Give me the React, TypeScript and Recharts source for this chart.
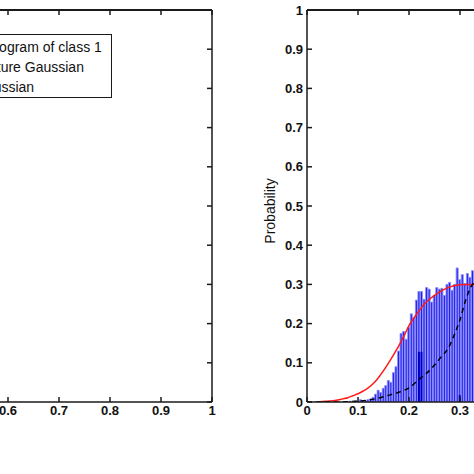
import { ComposedChart, Bar, Line, XAxis, YAxis, ReferenceLine } from 'recharts'

const FONT = '"Liberation Sans", Arial, Helvetica, sans-serif'
const INK = '#1a1a1a'
const VIEW = 474
const PLOT_TOP = 10

// axes are 0..1 with MATLAB style 0.1 steps on both panels
const axisTicks = [0, 0.1, 0.2, 0.3, 0.4, 0.5, 0.6, 0.7, 0.8, 0.9, 1]

// right panel: histogram bins (bin centres) and probabilities
const binCenters = [
  0.085, 0.09, 0.095, 0.1, 0.105, 0.11, 0.115, 0.12, 0.125, 0.13, 0.135, 0.14, 0.145, 0.15,
  0.155, 0.16, 0.165, 0.17, 0.175, 0.18, 0.185, 0.19, 0.195, 0.2, 0.205, 0.21, 0.215, 0.22,
  0.225, 0.23, 0.235, 0.24, 0.245, 0.25, 0.255, 0.26, 0.265, 0.27, 0.275, 0.28, 0.285, 0.29,
  0.295, 0.3, 0.305, 0.31, 0.315, 0.32, 0.325, 0.33, 0.335,
]
const histValues = [
  0.002, 0, 0.003, 0.002, 0.006, 0.004, 0.003, 0.006, 0.008, 0.012, 0.02, 0.03, 0.024, 0.035,
  0.042, 0.055, 0.05, 0.075, 0.09, 0.13, 0.175, 0.18, 0.16, 0.19, 0.225, 0.215, 0.26, 0.282,
  0.282, 0.262, 0.292, 0.288, 0.255, 0.272, 0.292, 0.288, 0.29, 0.272, 0.3, 0.305, 0.285, 0.3,
  0.342, 0.312, 0.325, 0.302, 0.328, 0.318, 0.335, 0.32, 0.345,
]
// darker overlapping bars
const overlapBins = [0.22, 0.225, 0.3]
const overlapValues = [0.128, 0.128, 0.018]

// mixture gaussian (red)
const mixtureX = [
  0.02, 0.03, 0.04, 0.05, 0.06, 0.07, 0.08, 0.09, 0.1, 0.11, 0.12, 0.13, 0.14, 0.15, 0.16, 0.17,
  0.18, 0.19, 0.2, 0.21, 0.22, 0.23, 0.24, 0.25, 0.26, 0.27, 0.28, 0.29, 0.3, 0.31, 0.32, 0.33, 0.34,
]
const mixtureValues = [
  0, 0.001, 0.002, 0.003, 0.005, 0.008, 0.011, 0.016, 0.021, 0.028, 0.036, 0.047, 0.062, 0.08,
  0.1, 0.121, 0.143, 0.168, 0.195, 0.215, 0.233, 0.25, 0.262, 0.272, 0.281, 0.288, 0.293, 0.297,
  0.299, 0.3, 0.3, 0.3, 0.299,
]

// single gaussian (black dashed)
const gaussianX = [0, 0.05, 0.1, 0.12, 0.14, 0.16, 0.18, 0.2, 0.22, 0.24, 0.26, 0.28, 0.29, 0.3, 0.31, 0.32, 0.33, 0.34]
const gaussianValues = [0, 0, 0.002, 0.005, 0.01, 0.017, 0.025, 0.036, 0.058, 0.08, 0.11, 0.145, 0.175, 0.21, 0.255, 0.29, 0.31, 0.33]

const legendLabels = ['Histogram of class 1', 'Mixture Gaussian', 'Gaussian']

const histData = binCenters.map((x, i) => {
  const k = overlapBins.indexOf(x)
  return { x, hist: histValues[i], overlap: k >= 0 ? overlapValues[k] : 0 }
})
const mixtureData = mixtureX.map((x, i) => ({ x, p: mixtureValues[i] }))
const gaussianData = gaussianX.map((x, i) => ({ x, p: gaussianValues[i] }))

const labelStyle = { fontFamily: FONT, fontSize: 13, fontWeight: 700, fill: '#111' }

// ticks point inward like MATLAB's box axes (bottom and mirrored top);
// labels outside the window are skipped
const BottomTick = ({ x, y, payload, shift = 0 }: any) => {
  const ax = x + shift
  const show = ax > -8 && ax < VIEW - 8
  return (
    <g>
      <line x1={x} y1={y} x2={x} y2={y - 5} stroke={INK} strokeWidth={1.5} />
      <line x1={x} y1={PLOT_TOP} x2={x} y2={PLOT_TOP + 5} stroke={INK} strokeWidth={1.5} />
      {show && <text x={x} y={y + 13} textAnchor="middle" {...labelStyle}>{String(payload.value)}</text>}
    </g>
  )
}
const LeftTick = ({ x, y, payload, shift = 0 }: any) => (
  <g>
    <line x1={x} y1={y} x2={x + 5} y2={y} stroke={INK} strokeWidth={1.5} />
    {x + shift > 20 && <text x={x - 4} y={y + 4.5} textAnchor="end" {...labelStyle}>{String(payload.value)}</text>}
  </g>
)
const RightTick = ({ x, y }: any) => (
  <line x1={x} y1={y} x2={x - 5} y2={y} stroke={INK} strokeWidth={1.5} />
)

const axisLine = { stroke: INK, strokeWidth: 1.5 }

// top edge of each axes box
const frameTop = { position: 'absolute' as const, top: PLOT_TOP - 0.75, height: 1.5, background: INK }

function LeftPanel() {
  return (
    <div style={{ position: 'absolute', left: -358, top: 0 }}>
      <ComposedChart width={590} height={474} data={[]} margin={{ top: PLOT_TOP, right: 10, bottom: 42, left: 0 }}>
        <XAxis dataKey="x" type="number" domain={[0, 1]} ticks={axisTicks} allowDataOverflow
          axisLine={axisLine} tickLine={false} tickSize={0} tickMargin={0} height={30} tick={<BottomTick shift={-358} />} />
        <YAxis type="number" domain={[0, 1]} ticks={axisTicks} allowDataOverflow width={60}
          axisLine={axisLine} tickLine={false} tickSize={0} tickMargin={0} tick={<LeftTick shift={-358} />} />
        <YAxis yAxisId={1} orientation="right" type="number" domain={[0, 1]} ticks={axisTicks} allowDataOverflow width={10}
          axisLine={axisLine} tickLine={false} tickSize={0} tickMargin={0} tick={<RightTick />} />
        <ReferenceLine y={1} stroke={INK} strokeWidth={1.5} ifOverflow="visible" />
      </ComposedChart>
      <div style={{ ...frameTop, left: 60, width: 510 }} />
      <div style={{
        position: 'absolute', left: 288, top: 34, width: 180, height: 62,
        border: `1.5px solid ${INK}`, background: '#fff', fontFamily: FONT, fontSize: 14, color: '#111',
      }}>
        {legendLabels.map((t, i) => (
          <div key={t} style={{ position: 'absolute', left: 44, top: 3 + i * 20, lineHeight: '18px', whiteSpace: 'nowrap' }}>
            {t}
          </div>
        ))}
      </div>
    </div>
  )
}

function RightPanel() {
  return (
    <div style={{ position: 'absolute', left: 0, top: 0 }}>
      <ComposedChart width={827} height={474} data={histData} margin={{ top: PLOT_TOP, right: 10, bottom: 42, left: 247 }}>
        <XAxis dataKey="x" type="number" domain={[0, 1]} ticks={axisTicks} allowDataOverflow
          axisLine={axisLine} tickLine={false} tickSize={0} tickMargin={0} height={30} tick={<BottomTick />} />
        <XAxis xAxisId={1} dataKey="x" type="number" domain={[0, 1]} allowDataOverflow hide />
        <YAxis type="number" domain={[0, 1]} ticks={axisTicks} allowDataOverflow width={60}
          axisLine={axisLine} tickLine={false} tickSize={0} tickMargin={0} tick={<LeftTick />}
          label={{ value: 'Probability', angle: -90, position: 'insideLeft', offset: 23, dy: 5,
            style: { fontFamily: FONT, fontSize: 14, fill: '#111', textAnchor: 'middle' } }} />
        <ReferenceLine y={1} stroke={INK} strokeWidth={1.5} ifOverflow="visible" />
        <Bar dataKey="hist" fill="#1e1ee6" stroke="#8f8fff" strokeWidth={0.9} barSize={2} isAnimationActive={false} />
        <Bar dataKey="overlap" xAxisId={1} fill="#0000c4" barSize={2} isAnimationActive={false} />
        <Line data={mixtureData} dataKey="p" type="monotone" stroke="#ff1a1a" strokeWidth={1.5} dot={false} isAnimationActive={false} />
        <Line data={gaussianData} dataKey="p" type="monotone" stroke="#000" strokeWidth={1.5} strokeDasharray="5 4" dot={false} isAnimationActive={false} />
      </ComposedChart>
      <div style={{ ...frameTop, left: 307, width: 510 }} />
    </div>
  )
}

export default function App() {
  return (
    <div style={{ position: 'absolute', left: 0, top: 0, width: 474, height: 474, overflow: 'hidden', background: '#fff' }}>
      <RightPanel />
      <LeftPanel />
    </div>
  )
}
